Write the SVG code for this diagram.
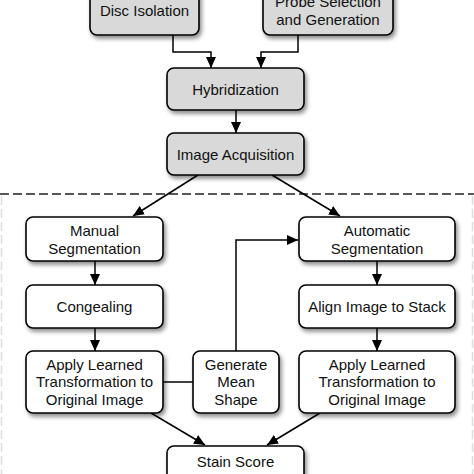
<svg xmlns="http://www.w3.org/2000/svg" width="474" height="474" viewBox="0 0 474 474">
<defs>
<filter id="sh" x="-20%" y="-20%" width="140%" height="150%">
<feDropShadow dx="2" dy="3" stdDeviation="2" flood-color="#000" flood-opacity="0.45"/>
</filter>
<marker id="ah" markerWidth="11" markerHeight="10" refX="11" refY="5" orient="auto" markerUnits="userSpaceOnUse">
<path d="M0,0 L11,5 L0,10 Z" fill="#000"/>
</marker>
<style>
.g rect{fill:#d9d9d9;stroke:#000;stroke-width:1.6;filter:url(#sh)}
.w rect{fill:#fff;stroke:#000;stroke-width:1.6;filter:url(#sh)}
text{font-family:"Liberation Sans",Arial,sans-serif;font-size:15px;fill:#111;text-anchor:middle}
#connectors path{fill:none;stroke:#000;stroke-width:1.5}
.ar{marker-end:url(#ah)}
</style>
</defs>
<rect width="474" height="474" fill="#fff"/>
<line x1="0" y1="194" x2="474" y2="194" stroke="#222" stroke-width="1.5" stroke-dasharray="9 4"/>
<line x1="1.5" y1="196" x2="1.5" y2="474" stroke="#ddd" stroke-width="1.5" stroke-dasharray="9 4"/>
<line x1="472.5" y1="196" x2="472.5" y2="474" stroke="#ddd" stroke-width="1.5" stroke-dasharray="9 4"/>

<g id="connectors">
<path class="ar" d="M173,35 V52 H211 V68"/>
<path class="ar" d="M298,35 V52 H261 V68"/>
<path class="ar" d="M236,110 V133"/>
<path class="ar" d="M198,175 L133,216"/>
<path class="ar" d="M272,175 L340,216"/>
<path class="ar" d="M95,261 V285"/>
<path class="ar" d="M95,328 V351"/>
<path class="ar" d="M377,261 V285"/>
<path class="ar" d="M377,328 V351"/>
<path d="M163,382 H193"/>
<path class="ar" d="M236,351 V240 H298"/>
<path class="ar" d="M151,413 L205,445"/>
<path class="ar" d="M320,413 L267,445"/>
</g>

<g id="disc-isolation" class="g"><rect x="90" y="-20" width="109" height="55" rx="7"/><text x="144.5" y="15.5">Disc Isolation</text></g>
<g id="probe-selection" class="g"><rect x="263" y="-20" width="130" height="55" rx="7"/><text x="328" y="7">Probe Selection</text><text x="328" y="24.5">and Generation</text></g>
<g id="hybridization" class="g"><rect x="167" y="68" width="137" height="42" rx="7"/><text x="235.5" y="94.5">Hybridization</text></g>
<g id="image-acquisition" class="g"><rect x="167" y="133" width="137" height="42" rx="7"/><text x="235.5" y="159.5">Image Acquisition</text></g>

<g id="manual-segmentation" class="w"><rect x="26" y="217" width="137" height="44" rx="7"/><text x="94.5" y="235.5">Manual</text><text x="94.5" y="253.5">Segmentation</text></g>
<g id="congealing" class="w"><rect x="26" y="285" width="137" height="43" rx="7"/><text x="94.5" y="311.5">Congealing</text></g>
<g id="apply-left" class="w"><rect x="26" y="351" width="137" height="62" rx="7"/><text x="94.5" y="369.5">Apply Learned</text><text x="94.5" y="387">Transformation to</text><text x="94.5" y="404.5">Original Image</text></g>
<g id="generate-mean-shape" class="w"><rect x="193" y="351" width="86" height="62" rx="7"/><text x="236" y="369.5">Generate</text><text x="236" y="387">Mean</text><text x="236" y="404.5">Shape</text></g>
<g id="automatic-segmentation" class="w"><rect x="299" y="217" width="156" height="44" rx="7"/><text x="377" y="235.5">Automatic</text><text x="377" y="253.5">Segmentation</text></g>
<g id="align-image" class="w"><rect x="299" y="285" width="156" height="43" rx="7"/><text x="377" y="311.5">Align Image to Stack</text></g>
<g id="apply-right" class="w"><rect x="299" y="351" width="156" height="62" rx="7"/><text x="377" y="369.5">Apply Learned</text><text x="377" y="387">Transformation to</text><text x="377" y="404.5">Original Image</text></g>
<g id="stain-score" class="w"><rect x="167" y="446" width="137" height="45" rx="7"/><text x="235.5" y="466.5">Stain Score</text></g>
</svg>
